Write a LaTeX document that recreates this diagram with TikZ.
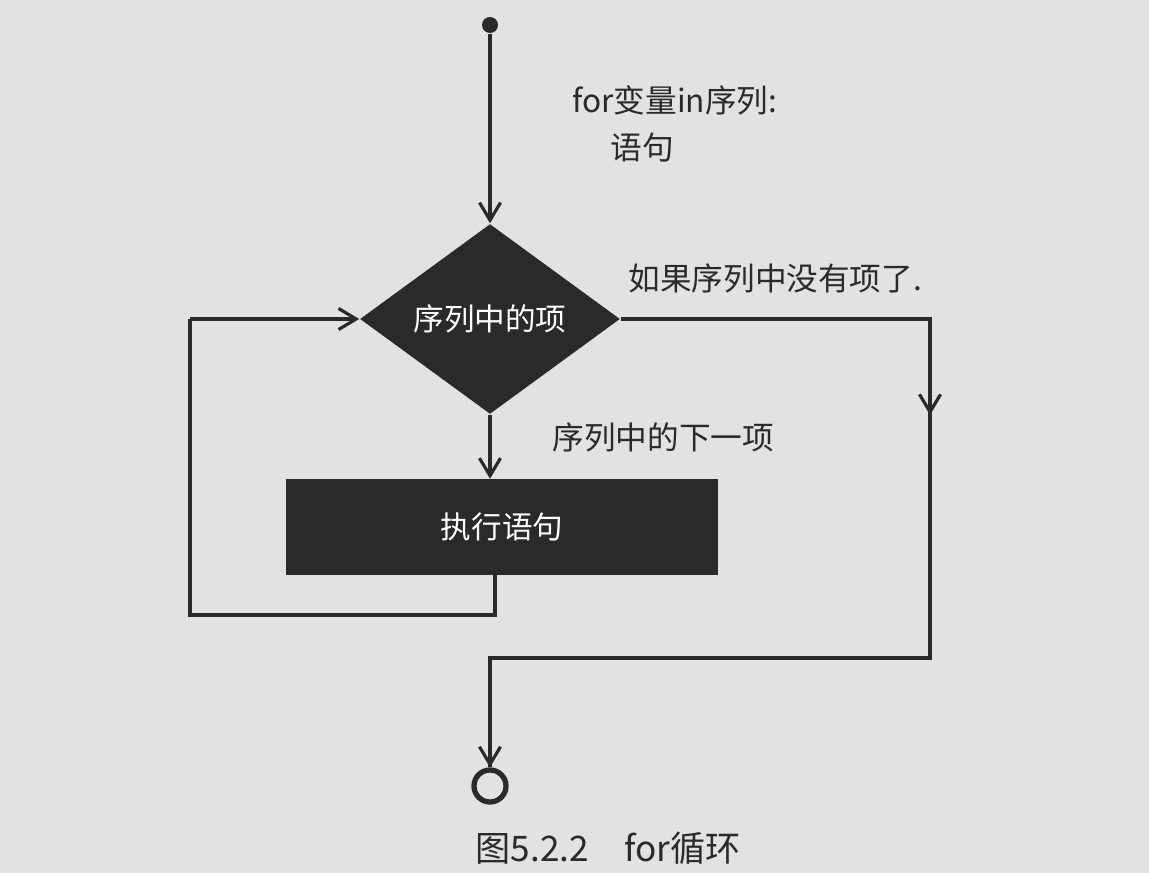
\documentclass[tikz,border=0pt]{standalone}
\usepackage{fontspec}
\newfontfamily\cjk{Noto Sans CJK SC}
\usetikzlibrary{shapes.geometric,arrows.meta}
\definecolor{paper}{HTML}{E2E2E0}
\definecolor{ink}{HTML}{2A2A2A}
\begin{document}
\begin{tikzpicture}[x=0.01cm,y=-0.01cm,
  line/.style={draw=ink,line width=0.9pt},
  arr/.style={line,-{Straight Barb[length=5pt,width=6pt]}},
  lbl/.style={font=\cjk\fontsize{9}{11}\selectfont,text=ink},
  wt/.style={font=\cjk\fontsize{8.7}{10}\selectfont,text=white}]
\fill[paper] (0,0) rectangle (1149,873);
\node[circle,fill=ink,minimum size=0.16cm,inner sep=0] (start) at (490,25) {};
\node[diamond,fill=ink,minimum width=2.6cm,minimum height=1.9cm,inner sep=0,wt] (dec) at (490,319) {序列中的项};
\node[rectangle,fill=ink,minimum width=4.31cm,minimum height=0.95cm,inner sep=0,wt] (act) at (502,527) {执行语句};
\node[circle,draw=ink,line width=1.5pt,minimum size=0.32cm,inner sep=0] (end) at (490,786) {};
\coordinate (l1) at (495,615); \coordinate (l2) at (190,615); \coordinate (l3) at (190,319);
\coordinate (r1) at (930,319); \coordinate (r2) at (930,658); \coordinate (r3) at (490,658);
\draw[arr] (start) -- (dec.north);
\draw[arr] (dec.south) -- (act.north -| dec.south);
\draw[line] (act.south -| l1) -- (l1) -- (l2) -- (l3);
\draw[arr] (l3) -- (dec.west);
\draw[line] (dec.east) -- (r1) -- (r2) -- (r3) -- (end.north);
\draw[arr] (r1) -- (930,415);
\draw[arr] (r3) -- (end.north);
\node[lbl,anchor=west] (t1) at (560,100) {for变量in序列:};
\node[lbl,anchor=west] (t2) at (598,148) {语句};
\node[lbl,anchor=west] (t3) at (616,278) {如果序列中没有项了.};
\node[lbl,anchor=west] (t4) at (540,437) {序列中的下一项};
\node[lbl,font=\cjk\fontsize{10}{12}\selectfont] (cap) at (608,848) {图5.2.2\quad for循环};
\end{tikzpicture}
\end{document}
